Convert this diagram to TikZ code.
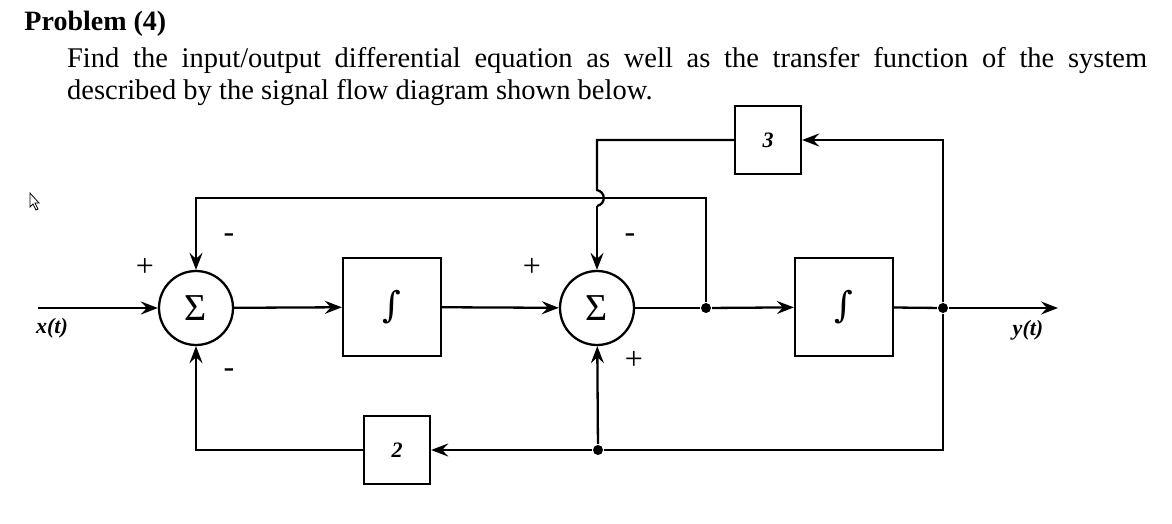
\documentclass[tikz,border=0pt]{standalone}
\usepackage{fontspec}
\setmainfont{Liberation Serif}
\newfontfamily\symf{DejaVu Serif}
\usetikzlibrary{arrows.meta}
\begin{document}
\begin{tikzpicture}[x=1pt,y=-1pt,line width=2.3pt,
  sum/.style={draw,circle,minimum size=74pt,inner sep=0pt,font=\fontsize{38}{38}\selectfont},
  blk/.style={draw,minimum width=98pt,minimum height=98pt,inner sep=0pt,font=\symf\fontsize{36}{36}\selectfont},
  gain/.style={draw,minimum width=66pt,minimum height=68pt,inner sep=0pt,font=\bfseries\itshape\fontsize{22}{22}\selectfont},
  tip/.style={-{Stealth[length=17pt,width=13pt,inset=6pt]}},
  dot/.style={circle,fill,inner sep=0pt,minimum size=10pt},
  sgn/.style={font=\fontsize{32}{32}\selectfont}]
\useasboundingbox (0,0) rectangle (1172,523);
\node[anchor=west,font=\bfseries\fontsize{28}{30}\selectfont] (title) at (20,24) {Problem (4)};
\node[anchor=north west,text width=1080pt,align=justify,inner sep=0pt,font=\fontsize{28.5}{32}\selectfont] (para) at (66,46)
 {Find the input/output differential equation as well as the transfer function of the system\linebreak described by the signal flow diagram shown below.};
\draw[line width=0.8pt] (30,193) -- (30,207) -- (33,204) -- (36,210) -- (38,209) -- (35,203) -- (39,203) -- cycle;
\node[sum] (s1) at (196,308) {Σ};
\node[sum] (s2) at (597,308) {Σ};
\node[blk] (i1) at (392,307) {∫};
\node[blk] (i2) at (844,307) {∫};
\node[gain] (g3) at (768,140) {3};
\node[gain] (g2) at (397,450) {2};
\node[dot] (n1) at (706,308) {};
\node[dot] (n2) at (943,308) {};
\node[dot] (n3) at (598,450) {};
\coordinate (xin) at (38,308);
\coordinate (yout) at (1058,308);
\node[font=\bfseries\itshape\fontsize{22}{22}\selectfont] (xl) at (52,328) {x(t)};
\node[font=\bfseries\itshape\fontsize{22}{22}\selectfont] (yl) at (1028,330) {y(t)};
\draw[tip] (xin) -- (s1);
\draw[tip] (s1) -- (i1);
\draw[tip] (i1) -- (s2);
\draw (s2) -- (n1);
\draw[tip] (n1) -- (i2);
\draw (i2) -- (n2);
\draw[tip] (n2) -- (yout);
\draw[tip] (n1) |- (196,198) -- (s1);
\draw[tip] (n2) |- (g3.east);
\draw (g3.west) -| (597,190) .. controls (606,192) and (606,204) .. (597,206);
\draw[tip] (597,206) -- (s2);
\draw (n2) |- (n3);
\draw[tip] (n3) -- (s2);
\draw[tip] (n3) -- (g2.east);
\draw[tip] (g2.west) -| (s1);
\node[sgn] (p1) at (145,267) {+};
\node[sgn] (m1) at (229,238) {-};
\node[sgn] (m2) at (229,373) {-};
\node[sgn] (p2) at (532,267) {+};
\node[sgn] (m3) at (630,238) {-};
\node[sgn] (p3) at (634,360) {+};
\end{tikzpicture}
\end{document}
